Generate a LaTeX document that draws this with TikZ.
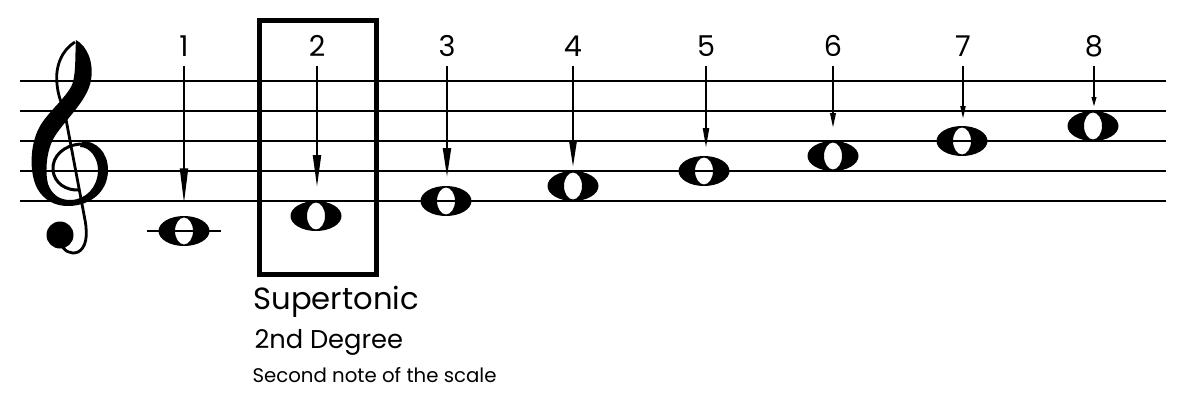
\documentclass[tikz,border=0pt]{standalone}
\usepackage{fontspec}
\setmainfont{Poppins}
\usetikzlibrary{arrows.meta}
\tikzset{every picture/.style={line width=0.75pt}}

\begin{document}
\begin{tikzpicture}[x=0.75pt,y=0.75pt,yscale=-1,xscale=1,
  staffline/.style={line width=1.5pt},
  degree/.style={font=\fontsize{21.5}{25}\selectfont, inner sep=0.75pt},
  pointer/.style={line width=1.5pt, shorten <=6pt},
  note/.style={even odd rule}]
\useasboundingbox (0,0) rectangle (1200,400);

%Straight Lines [staff]
\draw[staffline] (20,81) -- (1166,81);
\draw[staffline] (20,111) -- (1166,111);
\draw[staffline] (20,141) -- (1166,141);
\draw[staffline] (20,171) -- (1166,171);
\draw[staffline] (20,201) -- (1166,201);
%Straight Lines [ledger]
\draw[staffline] (147,231) -- (221,231);

%Shape: Treble clef, swash
\fill (76,40) .. controls (75,55) and (76,70) .. (73,82) .. controls (69,96) and (47,112) .. (39,128) .. controls (30,145) and (29,172) .. (37,188) .. controls (44,201) and (56,206) .. (68,206) .. controls (90,206) and (108,192) .. (108,170) .. controls (108,152) and (96,141) .. (82,141) -- (80,147) .. controls (90,147) and (98,158) .. (98,170) .. controls (98,187) and (86,200) .. (70,200) .. controls (60,200) and (52,195) .. (48,184) .. controls (45,172) and (46,150) .. (55,136) .. controls (65,120) and (88,100) .. (91,80) .. controls (94,62) and (87,46) .. (76,40) -- cycle ;
%Shape: Treble clef, curl
\draw[line width=2.25pt] (81,144) .. controls (64,145) and (52,156) .. (53,170) .. controls (54,183) and (66,191) .. (80,190) ;
%Shape: Treble clef, stem
\draw[line width=2.1pt] (75,42) .. controls (62,50) and (55,66) .. (57,84) .. controls (58,96) and (62,104) .. (65,114) -- (85,220) .. controls (88,236) and (86,248) .. (78,252) .. controls (71,255) and (63,251) .. (61,243) ;
%Shape: Treble clef, dot
\fill (60,235) circle (13.5) ;

%Shape: Ellipse [notes]
\fill[note] (184,231) ellipse [x radius=25.5, y radius=15] (184,231) ellipse [x radius=9, y radius=13.5] ;
\fill[note] (316,216) ellipse [x radius=25.5, y radius=15] (316,216) ellipse [x radius=9, y radius=13.5] ;
\fill[note] (446,201) ellipse [x radius=25.5, y radius=15] (446,201) ellipse [x radius=9, y radius=13.5] ;
\fill[note] (573,186) ellipse [x radius=25.5, y radius=15] (573,186) ellipse [x radius=9, y radius=13.5] ;
\fill[note] (704,171) ellipse [x radius=25.5, y radius=15] (704,171) ellipse [x radius=9, y radius=13.5] ;
\fill[note] (833,156) ellipse [x radius=25.5, y radius=15] (833,156) ellipse [x radius=9, y radius=13.5] ;
\fill[note] (962,141) ellipse [x radius=25.5, y radius=15] (962,141) ellipse [x radius=9, y radius=13.5] ;
\fill[note] (1093,126) ellipse [x radius=25.5, y radius=15] (1093,126) ellipse [x radius=9, y radius=13.5] ;

%Shape: Rectangle [highlight]
\draw[line width=3.75pt] (259.5,20.5) rectangle (376.5,274.5) ;

% Text Node
\node[degree] (n1) at (184,46) {1};
\node[degree] (n2) at (317,46) {2};
\node[degree] (n3) at (447,46) {3};
\node[degree] (n4) at (573,46) {4};
\node[degree] (n5) at (706,46) {5};
\node[degree] (n6) at (833,46) {6};
\node[degree] (n7) at (963,46) {7};
\node[degree] (n8) at (1094,46) {8};

\coordinate (t1) at (184,203);
\coordinate (t2) at (317,187);
\coordinate (t3) at (447,177);
\coordinate (t4) at (573,167);
\coordinate (t5) at (706,148);
\coordinate (t6) at (833,128);
\coordinate (t7) at (963,119);
\coordinate (t8) at (1094,107);

%Straight Lines [pointers]
\draw[pointer, -{Triangle[length=26pt,width=6pt]}] (n1) -- (t1) ;
\draw[pointer, -{Triangle[length=24pt,width=6pt]}] (n2) -- (t2) ;
\draw[pointer, -{Triangle[length=21.75pt,width=6pt]}] (n3) -- (t3) ;
\draw[pointer, -{Triangle[length=18.75pt,width=5.25pt]}] (n4) -- (t4) ;
\draw[pointer, -{Triangle[length=15pt,width=4.5pt]}] (n5) -- (t5) ;
\draw[pointer, -{Triangle[length=11.25pt,width=4.1pt]}] (n6) -- (t6) ;
\draw[pointer, -{Triangle[length=9.75pt,width=3.75pt]}] (n7) -- (t7) ;
\draw[pointer, -{Triangle[length=7.5pt,width=3.4pt]}] (n8) -- (t8) ;

% Text Node
\node[anchor=base west, inner sep=0pt, font=\fontsize{23}{27}\selectfont] (name) at (253,309) {Supertonic};
% Text Node
\node[anchor=base west, inner sep=0pt, font=\fontsize{19.3}{23}\selectfont] (rank) at (254,348) {2nd Degree};
% Text Node
\node[anchor=base west, inner sep=0pt, font=\fontsize{14.8}{18}\selectfont] (meaning) at (252,382) {Second note of the scale};

\end{tikzpicture}
\end{document}
